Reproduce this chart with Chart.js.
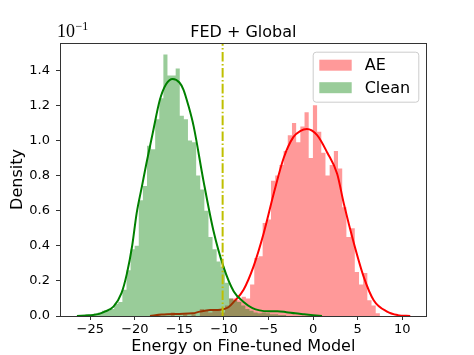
<!DOCTYPE html>
<html><head><meta charset="utf-8">
<script src="https://cdn.jsdelivr.net/npm/chart.js@4/dist/chart.umd.min.js"></script>
<style>html,body{margin:0;padding:0;background:#fff;overflow:hidden}#wrap{width:474px;height:355px;position:relative}</style>
</head><body><div id="wrap"><canvas id="c" width="474" height="355"></canvas></div>
<script>
const chartTitle = 'FED + Global';
const xLabel = 'Energy on Fine-tuned Model';
const yLabel = 'Density';
const seriesNames = ['AE', 'Clean'];
const xTicks = [-25, -20, -15, -10, -5, 0, 5, 10];
const yTicks = [0, 0.2, 0.4, 0.6, 0.8, 1.0, 1.2, 1.4];
const yExponent = '−1';
const xMin = -28.4, xMax = 12.75, yMin = 0, yMax = 1.555;
const threshold = -10.15;

// histogram bins (density, in units of 10^-1)
const aeBinStart = -16.0, aeBinWidth = 0.47;
const aeHist = [0.02,0.0,0.0,0.01,0.0, 0.01,0.0,0.04,0.03,0.02, 0.03,0.04,0.02,0.06,0.10,
  0.10,0.09,0.11,0.10,0.18, 0.33,0.34,0.53,0.55,0.77, 0.80,0.86,0.94,1.03,1.10,
  0.99,1.08,1.16,0.90,1.20, 1.05,0.93,0.80,0.86,0.94, 0.84,0.62,0.45,0.50,0.25,
  0.18,0.245,0.09,0.06,0.015];
const cleanBinStart = -26.0, cleanBinWidth = 0.46;
const cleanHist = [0.005,0.01,0.0,0.015,0.02, 0.03,0.03,0.04,0.07,0.08, 0.15,0.26,0.38,0.40,0.66,
  0.74,0.97,0.95,1.12,1.24, 1.49,1.37,1.37,1.41,1.14, 1.12,1.00,0.99,0.80,0.72,
  0.60,0.45,0.38,0.31,0.28, 0.19,0.10,0.09,0.08,0.06, 0.04,0.03,0.02,0.015,0.02,
  0.015,0.01,0.01,0.005,0.005];

// KDE curves
const aeKdeX = [-18.3,-17,-15,-13.5,-12.7,-11.55,-10.4,-9.5,-8.9,-7.8,-6.7,-5.55,-4.4,-3.3,-2.2,-1.4,-0.7,0.45,1.6,2.7,3.45,4.6,5.7,6.8,8.3,9.5,10.9];
const aeKdeY = [0,0.008,0.012,0.015,0.025,0.034,0.036,0.05,0.08,0.15,0.28,0.47,0.70,0.90,1.02,1.055,1.065,1.03,0.93,0.81,0.64,0.41,0.22,0.09,0.025,0.005,0];
const cleanKdeX = [-26.5,-25,-24,-23.5,-22.4,-21.5,-20.9,-20.3,-19.8,-19.2,-18.7,-18,-17.2,-16.5,-15.75,-15,-14.55,-14,-13.4,-12.3,-11.2,-10.05,-8.9,-7.8,-6.8,-6,-5,-4,-3,-2,-1,0,1];
const cleanKdeY = [0,0.004,0.012,0.022,0.053,0.13,0.24,0.40,0.585,0.74,0.87,1.04,1.23,1.32,1.35,1.33,1.29,1.2,1.08,0.77,0.49,0.28,0.14,0.08,0.045,0.032,0.027,0.027,0.022,0.015,0.01,0.005,0];

const FONT = 'DejaVu Sans';

function histPoints(start, width, vals) {
  const pts = vals.map((v, i) => ({x: start + i * width, y: v}));
  pts.push({x: start + vals.length * width, y: 0});
  return pts;
}
function curvePoints(xs, ys) { return xs.map((x, i) => ({x, y: ys[i]})); }

const framePlugin = {
  id: 'frame',
  afterDraw(chart) {
    const {ctx, chartArea: a} = chart;
    ctx.save();
    ctx.strokeStyle = '#333';
    ctx.lineWidth = 1;
    ctx.strokeRect(Math.round(a.left) + 0.5, Math.round(a.top) + 0.5, Math.round(a.right - a.left) - 1, Math.round(a.bottom - a.top));
    // title
    ctx.fillStyle = '#000';
    ctx.font = '16px "' + FONT + '"';
    ctx.textAlign = 'center';
    ctx.textBaseline = 'alphabetic';
    ctx.fillText(chartTitle, (a.left + a.right) / 2, a.top - 6);
    // offset text 10^-1
    ctx.textAlign = 'left';
    ctx.font = '18px "Liberation Serif"';
    ctx.fillText('10', a.left - 3, a.top - 6);
    const w = ctx.measureText('10').width;
    ctx.font = '12px "Liberation Serif"';
    ctx.fillText(yExponent, a.left - 3 + w + 0.5, a.top - 13);
    // legend
    const bw = 105.6, bh = 50;
    const bx = a.right - 8.4 - bw, by = a.top + 8.7;
    ctx.beginPath();
    ctx.roundRect(bx + 0.5, by + 0.5, bw, bh, 3);
    ctx.fillStyle = 'rgba(255,255,255,0.8)';
    ctx.fill();
    ctx.strokeStyle = '#cccccc';
    ctx.stroke();
    const cols = ['rgba(255,0,0,0.4)', 'rgba(0,128,0,0.4)'];
    ctx.font = '16px "' + FONT + '"';
    ctx.textBaseline = 'middle';
    seriesNames.forEach((n, i) => {
      const cy = by + 13.5 + i * 22.5;
      ctx.fillStyle = cols[i];
      ctx.fillRect(bx + 6.6, cy - 5.5, 32.4, 11);
      ctx.fillStyle = '#000';
      ctx.fillText(n, bx + 52, cy + 1);
    });
    ctx.restore();
  }
};

const tickFont = {family: FONT, size: 13};
new Chart(document.getElementById('c'), {
  type: 'line',
  data: {
    datasets: [
      {label: seriesNames[0], data: histPoints(aeBinStart, aeBinWidth, aeHist), stepped: 'before', fill: 'origin',
       backgroundColor: 'rgba(255,0,0,0.4)', borderWidth: 0, borderColor: 'rgba(0,0,0,0)', pointRadius: 0, order: 5},
      {label: seriesNames[0] + ' KDE', data: curvePoints(aeKdeX, aeKdeY), borderColor: '#ff0000', borderWidth: 2,
       pointRadius: 0, fill: false, cubicInterpolationMode: 'monotone', order: 4},
      {label: seriesNames[1], data: histPoints(cleanBinStart, cleanBinWidth, cleanHist), stepped: 'before', fill: 'origin',
       backgroundColor: 'rgba(0,128,0,0.4)', borderWidth: 0, borderColor: 'rgba(0,0,0,0)', pointRadius: 0, order: 3},
      {label: seriesNames[1] + ' KDE', data: curvePoints(cleanKdeX, cleanKdeY), borderColor: '#008000', borderWidth: 2,
       pointRadius: 0, fill: false, cubicInterpolationMode: 'monotone', order: 2},
      {label: 'threshold', data: [{x: threshold, y: yMin}, {x: threshold, y: yMax}], borderColor: '#bfbf00', borderWidth: 2,
       borderDash: [9.6, 2.4, 1.5, 2.4], pointRadius: 0, fill: false, order: 1}
    ]
  },
  options: {
    responsive: false, animation: false, devicePixelRatio: 1,
    layout: {padding: {top: 43, right: 47.3, left: 0, bottom: 0}},
    plugins: {legend: {display: false}, tooltip: {enabled: false}, title: {display: false}},
    scales: {
      x: {
        type: 'linear', min: xMin, max: xMax,
        afterBuildTicks: s => { s.ticks = xTicks.map(v => ({value: v})); },
        afterFit: s => { s.height = 39; },
        ticks: {font: tickFont, color: '#000', padding: 2, maxRotation: 0, autoSkip: false,
                callback: v => String(v).replace('-', '−')},
        grid: {drawOnChartArea: false, drawTicks: true, tickLength: 4, tickColor: '#333', tickWidth: 1},
        border: {display: true, color: '#333', width: 1},
        title: {display: true, text: xLabel, color: '#000', font: {family: FONT, size: 16}, padding: {top: 0, bottom: -1}}
      },
      y: {
        type: 'linear', min: yMin, max: yMax,
        afterBuildTicks: s => { s.ticks = yTicks.map(v => ({value: v})); },
        afterFit: s => { s.width = 60; },
        ticks: {font: tickFont, color: '#000', padding: 6, autoSkip: false, callback: v => v.toFixed(1)},
        grid: {drawOnChartArea: false, drawTicks: true, tickLength: 4, tickColor: '#333', tickWidth: 1},
        border: {display: true, color: '#333', width: 1},
        title: {display: true, text: yLabel, color: '#000', font: {family: FONT, size: 16}, padding: {top: 8, bottom: 0}}
      }
    }
  },
  plugins: [framePlugin]
});
</script>
</body></html>
